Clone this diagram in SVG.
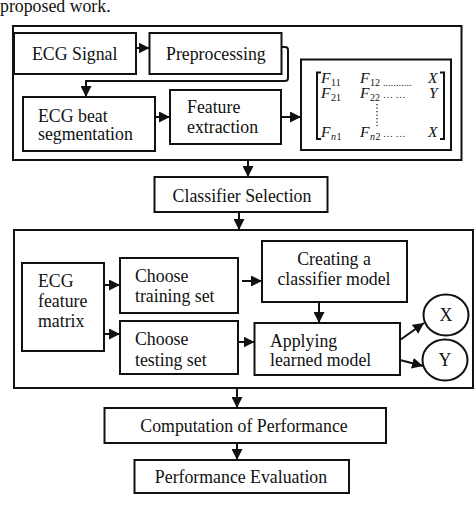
<svg xmlns="http://www.w3.org/2000/svg" width="474" height="518" viewBox="0 0 474 518">
<style>
.box{fill:#fff;stroke:#111;stroke-width:2}
.frame{fill:none;stroke:#111;stroke-width:2}
.t{font-family:'Liberation Serif','Tinos','DejaVu Serif','Noto Serif',serif;font-size:17.8px;fill:#111}
.c{text-anchor:middle}
.m{font-family:'Liberation Serif','Tinos','DejaVu Serif',serif;font-style:italic;font-size:15.5px;fill:#111}
.s{font-family:'Liberation Serif','Tinos','DejaVu Serif',serif;font-size:10px;fill:#111}
.si{font-family:'Liberation Serif','Tinos','DejaVu Serif',serif;font-style:italic;font-size:10px;fill:#111}
.d{font-family:'Liberation Serif','Tinos','DejaVu Serif',serif;font-size:10px;fill:#111}
.con{fill:none;stroke:#111;stroke-width:2;marker-end:url(#ah)}
</style>
<defs>
<marker id="ah" markerUnits="userSpaceOnUse" markerWidth="11" markerHeight="11" refX="11" refY="5.5" orient="auto">
<path d="M0,0 L11,5.5 L0,11 z" fill="#111"/>
</marker>
</defs>
<rect width="474" height="518" fill="#fff"/>
<text class="t" x="0" y="12">proposed work.</text>

<g id="frame1"><rect class="frame" x="13" y="26" width="448.5" height="134"/></g>
<g id="ecg-signal"><rect class="box" x="14" y="33" width="122" height="41"/><text class="t" x="32" y="59.5">ECG Signal</text></g>
<g id="preprocessing"><rect class="box" x="149.5" y="33" width="132" height="41"/><text class="t" x="166" y="59.5">Preprocessing</text></g>
<g id="ecg-beat"><rect class="box" x="23" y="97" width="132" height="54"/><text class="t" x="38" y="122">ECG beat</text><text class="t" x="38" y="140">segmentation</text></g>
<g id="feature-extraction"><rect class="box" x="170" y="90" width="111" height="54"/><text class="t" x="187" y="113">Feature</text><text class="t" x="187" y="133">extraction</text></g>
<g id="matrix">
<rect class="box" x="301" y="59.5" width="150" height="90.5"/>
<path class="frame" d="M321,72.5 H317 V139 H321 M440,72.5 H444 V139 H440" stroke-width="1.6"/>
<text class="m" x="321" y="82.5">F</text><text class="s" x="331" y="86">11</text>
<text class="m" x="360" y="82.5">F</text><text class="s" x="370" y="86">12</text>
<text class="d" x="383" y="86" letter-spacing="0.1">...........</text>
<text class="m" x="428" y="82.5">X</text>
<text class="m" x="321" y="98">F</text><text class="s" x="331" y="101">21</text>
<text class="m" x="360" y="98">F</text><text class="s" x="370" y="101">22</text>
<text class="d" x="383" y="98">… …</text>
<text class="m" x="429" y="98">Y</text>
<line x1="377" y1="104" x2="377" y2="126" stroke="#111" stroke-width="1.2" stroke-dasharray="1.2,2.3"/>
<text class="m" x="321" y="137">F</text><text class="si" x="331" y="140">n</text><text class="s" x="336.5" y="140">1</text>
<text class="m" x="360" y="137">F</text><text class="si" x="370" y="140">n</text><text class="s" x="375.5" y="140">2</text>
<text class="d" x="383" y="137">… …</text>
<text class="m" x="428" y="137">X</text>
</g>

<g id="classifier-selection"><rect class="box" x="154.5" y="177" width="173" height="35"/><text class="t c" x="242" y="202">Classifier Selection</text></g>

<g id="frame2"><rect class="frame" x="14" y="230" width="459" height="158"/></g>
<g id="ecg-feature-matrix"><rect class="box" x="22" y="263" width="82" height="88"/><text class="t" x="38" y="287">ECG</text><text class="t" x="38" y="307">feature</text><text class="t" x="38" y="327">matrix</text></g>
<g id="training"><rect class="box" x="120" y="258" width="118" height="55"/><text class="t" x="135" y="282">Choose</text><text class="t" x="135" y="302">training set</text></g>
<g id="testing"><rect class="box" x="120" y="321" width="118" height="53"/><text class="t" x="135" y="345">Choose</text><text class="t" x="135" y="366">testing set</text><rect x="119" y="373" width="120" height="2" fill="#111"/></g>
<g id="creating"><rect class="box" x="262" y="241" width="145" height="61"/><text class="t c" x="334" y="265">Creating a</text><text class="t c" x="334" y="285">classifier model</text></g>
<g id="applying"><rect class="box" x="254.5" y="323" width="145.5" height="52"/><text class="t" x="270" y="347">Applying</text><text class="t" x="270" y="366">learned model</text></g>
<g id="out-x"><ellipse class="box" cx="446" cy="315" rx="22.5" ry="20.5"/><text class="t c" x="446" y="321">X</text></g>
<g id="out-y"><ellipse class="box" cx="445" cy="360" rx="22.5" ry="20.5"/><text class="t c" x="445" y="366">Y</text></g>

<g id="computation"><rect class="box" x="104.5" y="408" width="281.5" height="35"/><text class="t c" x="244" y="432">Computation of Performance</text></g>
<g id="evaluation"><rect class="box" x="134.5" y="460" width="214.5" height="33"/><text class="t c" x="241" y="483">Performance Evaluation</text></g>

<g id="connectors">
<path class="con" d="M136,48 H149.5"/>
<path class="con" d="M281.5,47 H285 Q288,47 288,50 V78 Q288,81 285,81 H86 V97"/>
<path class="con" d="M155,117 H170"/>
<path class="con" d="M281,117 H301"/>
<path class="con" d="M248,160 V177"/>
<path class="con" d="M239,212 V230"/>
<path class="con" d="M104,285 H120"/>
<path class="con" d="M104,334 H120"/>
<path class="con" d="M242,281 H262"/>
<path class="con" d="M238,342 H254.5"/>
<path class="con" d="M319,302 V323"/>
<path class="con" d="M400,340 L424,323"/>
<path class="con" d="M400,360 L423,366"/>
<path class="con" d="M237,388 V408"/>
<path class="con" d="M237,443 V460"/>
</g>
</svg>
